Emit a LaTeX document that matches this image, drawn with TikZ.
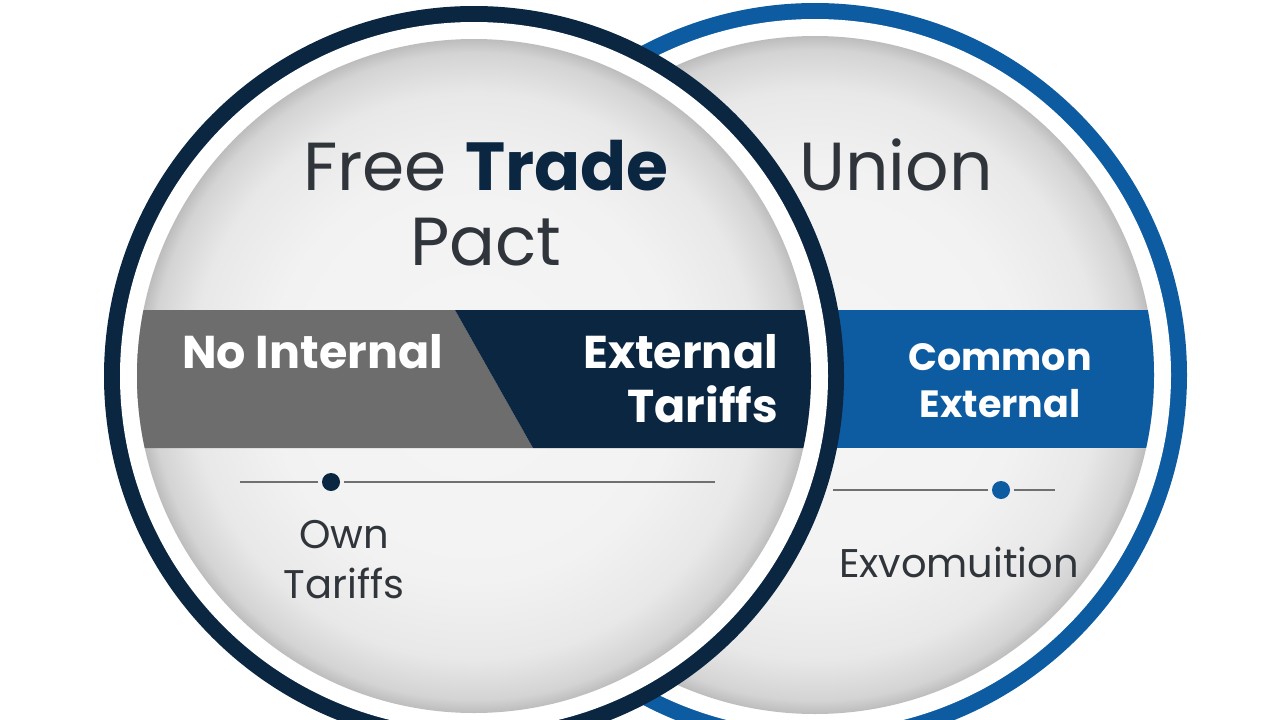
\documentclass[tikz,border=0pt]{standalone}
\usepackage{fontspec}
\setmainfont{Poppins}
\usetikzlibrary{positioning}
\definecolor{ringnavy}{HTML}{0B2641}
\definecolor{ringblue}{HTML}{0D5BA1}
\definecolor{bandgrey}{HTML}{6D6D6D}
\definecolor{inkgrey}{HTML}{30353B}
\definecolor{linegrey}{HTML}{707070}
\pgfdeclareradialshading{discshade}{\pgfpoint{0bp}{0bp}}{color(0bp)=(white!96!black); color(15bp)=(white!95!black); color(21bp)=(white!91!black); color(24bp)=(white!83!black); color(25bp)=(white!74!black); color(50bp)=(white!74!black)}
\tikzset{
  titletext/.style={font=\fontsize{68}{75}\selectfont, text=inkgrey, inner sep=0pt, anchor=base},
  bandtext/.style={font=\bfseries\fontsize{46}{54}\selectfont, text=white, inner sep=0pt, anchor=base},
  notetext/.style={font=\fontsize{40}{50}\selectfont, text=inkgrey, inner sep=0pt, anchor=base},
  tline/.style={linegrey, line width=2.5pt},
  tdot/.style={circle, minimum size=18pt, inner sep=0pt, outer sep=4pt}
}
\begin{document}
\begin{tikzpicture}[x=1pt, y=-1pt]
  \useasboundingbox (0,0) rectangle (1280,720);
  \clip (0,0) rectangle (1280,720);
  \fill[white] (0,0) rectangle (1280,720);
  \def\rOut{370}   % outer radius of the ring
  \def\rWhite{354} % white gap
  \def\rDisc{337}  % shaded disc
  % right circle (customs union), drawn first so the left one sits on top
  \fill[ringblue] (815,375) circle (372);
  \fill[white] (815,375) circle (356);
  \shade[shading=discshade] (815,375) circle (339);
  \begin{scope}
    \clip (815,375) circle (339);
    \fill[ringblue] (700,310) rectangle (1200,448);
  \end{scope}
  \node[titletext] (union) at (896,190) {Union};
  \node[bandtext, font=\bfseries\fontsize{38}{47}\selectfont, align=center] (common) at (1000,417) {Common\\External};
  \coordinate (unionL) at (833,490);
  \coordinate (unionR) at (1055,490);
  \node[tdot, fill=ringblue] (unionDot) at (1001,490) {};
  \draw[tline] (unionL) -- (unionDot) -- (unionR);
  \node[notetext] (exvo) at (959,577) {Exvomuition};
  % left circle (free trade pact)
  \fill[ringnavy] (474,376) circle (\rOut);
  \fill[white] (474,376) circle (\rWhite);
  \shade[shading=discshade] (474,376) circle (\rDisc);
  \begin{scope}
    \clip (474,376) circle (\rDisc);
    \fill[bandgrey] (100,310) -- (455,310) -- (533,448) -- (100,448) -- cycle;
    \fill[ringnavy] (455,310) -- (850,310) -- (850,448) -- (533,448) -- cycle;
  \end{scope}
  \node[titletext, align=center] (fta) at (486,265) {Free \textbf{\color{ringnavy}Trade}\\Pact};
  \node[bandtext, anchor=base west] (nointernal) at (182,368) {No Internal};
  \node[bandtext, anchor=base east, align=right] (external) at (778,422) {External\\Tariffs};
  \coordinate (ownL) at (240,482);
  \coordinate (ownR) at (715,482);
  \node[tdot, fill=ringnavy] (ownDot) at (331,482) {};
  \draw[tline] (ownL) -- (ownDot) -- (ownR);
  \node[notetext, align=center] (own) at (344,598) {Own\\Tariffs};
\end{tikzpicture}
\end{document}
